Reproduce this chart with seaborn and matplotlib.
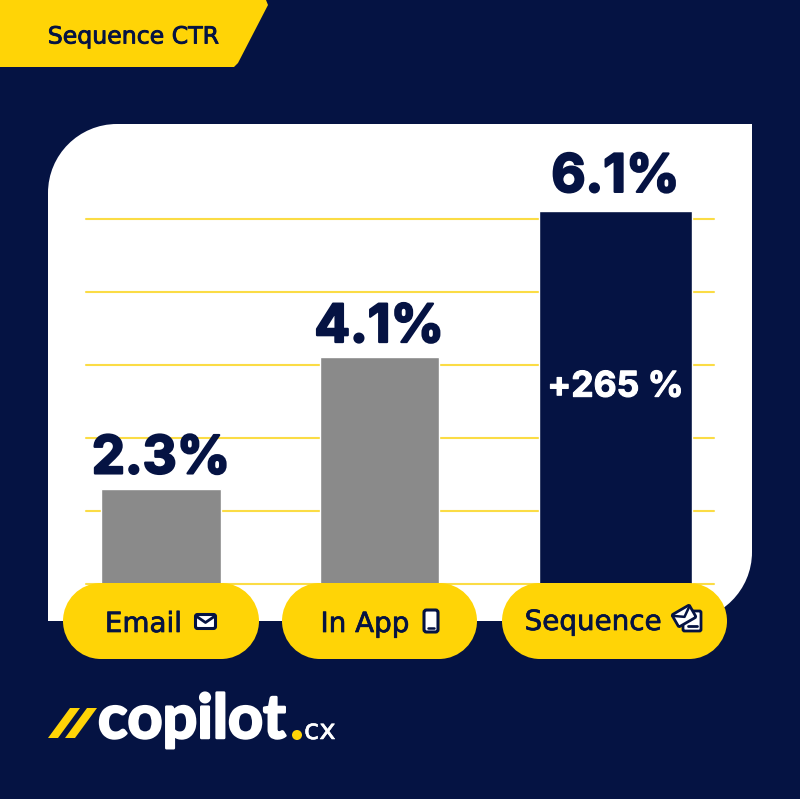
import numpy as np
import pandas as pd
import seaborn as sns
import matplotlib
matplotlib.use("Agg")
import matplotlib.pyplot as plt
import matplotlib.patheffects as pe
from matplotlib.patches import PathPatch, Polygon, FancyBboxPatch, Circle
from matplotlib.path import Path
from matplotlib.transforms import Affine2D

# ---------- data ----------
categories = ["Email", "In App", "Sequence"]
ctr_values = [2.3, 4.1, 6.1]
value_labels = ["2.3%", "4.1%", "6.1%"]
uplift_label = "+265 %"
badge_title = "Sequence CTR"
grid_levels = [1, 2, 3, 4, 5, 6]

# ---------- style ----------
NAVY = "#051343"
YELLOW = "#FFD406"
GRID = "#FBDC45"
GREY = "#8A8A8A"
WHITE = "#FFFFFF"
W, H = 800, 799
FONT = ["Inter", "DejaVu Sans"]
WIDE = ["DejaVu Sans"]

sns.set_theme(style="white")
plt.rcParams["font.family"] = FONT
fig = plt.figure(figsize=(W / 100, H / 100), dpi=100, facecolor=NAVY)


def stroke(width, color):
    return [pe.withStroke(linewidth=width, foreground=color)]


def pixel_axes(z):
    a = fig.add_axes([0, 0, 1, 1], zorder=z)
    a.set_xlim(0, W)
    a.set_ylim(H, 0)
    a.axis("off")
    a.patch.set_alpha(0)
    return a


def rounded_path(x0, y0, x1, y1, r_tl, r_tr, r_br, r_bl):
    k = 0.5523
    v = [(x0 + r_tl, y0), (x1 - r_tr, y0),
         (x1 - r_tr + k * r_tr, y0), (x1, y0 + r_tr - k * r_tr), (x1, y0 + r_tr),
         (x1, y1 - r_br),
         (x1, y1 - r_br + k * r_br), (x1 - r_br + k * r_br, y1), (x1 - r_br, y1),
         (x0 + r_bl, y1),
         (x0 + r_bl - k * r_bl, y1), (x0, y1 - r_bl + k * r_bl), (x0, y1 - r_bl),
         (x0, y0 + r_tl),
         (x0, y0 + r_tl - k * r_tl), (x0 + r_tl - k * r_tl, y0), (x0 + r_tl, y0)]
    c = [Path.MOVETO, Path.LINETO,
         Path.CURVE4, Path.CURVE4, Path.CURVE4,
         Path.LINETO,
         Path.CURVE4, Path.CURVE4, Path.CURVE4,
         Path.LINETO,
         Path.CURVE4, Path.CURVE4, Path.CURVE4,
         Path.LINETO,
         Path.CURVE4, Path.CURVE4, Path.CURVE4]
    return Path(v, c)


# ---------- background layer ----------
bg = pixel_axes(0)
bg.add_patch(PathPatch(rounded_path(48, 124, 752, 621, 69, 0, 69, 0), fc=WHITE, ec="none"))
bg.add_patch(Polygon([(0, 0), (266, 0), (268, 5), (238, 63), (234, 67), (0, 67)], fc=YELLOW, ec="none"))
bg.text(133.5, 34, badge_title, ha="center", va="center_baseline", color=NAVY,
        fontsize=17, family=WIDE, path_effects=stroke(0.6, NAVY))

# ---------- chart layer ----------
BASE_PX = 583.5
ax = fig.add_axes([86 / W, 1 - BASE_PX / H, (714 - 86) / W, (BASE_PX - 200) / H], zorder=1)
ax.patch.set_alpha(0)
df = pd.DataFrame({"channel": categories, "ctr": ctr_values})
sns.barplot(data=df, x="channel", y="ctr", hue="channel", order=categories,
            palette=[GREY, GREY, NAVY], legend=False, saturation=1, ax=ax, zorder=3)
ax.set_xlim(-0.5, 2.5)
# y axis starts at 1, as in the original: one gridline unit is 73 px
ax.set_ylim(1, 1 + (BASE_PX - 200) / 73)
ax.set_yticks(grid_levels)
ax.yaxis.grid(True, color=GRID, linewidth=1.5)
for line in ax.get_ygridlines():
    line.set_clip_on(False)
ax.xaxis.grid(False)
ax.set_axisbelow(True)
ax.set_xticks([])
ax.set_yticklabels([])
ax.set_xlabel("")
ax.set_ylabel("")
ax.tick_params(length=0)
sns.despine(ax=ax, left=True, bottom=True, top=True, right=True)


def to_x(px):
    return -0.5 + 3 * (px - 86) / (714 - 86)


# the original's bars differ in width and spacing
bar_spans_px = [(101.2, 220.8), (319.7, 438.9), (538.7, 692.2)]
bars = list(ax.patches)[:3]
for bar, (a, b) in zip(bars, bar_spans_px):
    bar.set_x(to_x(a))
    bar.set_width(to_x(b) - to_x(a))

label_gaps = [3, 3, 6]
for bar, val, lab, gap in zip(bars, ctr_values, value_labels, label_gaps):
    ax.annotate(lab, (bar.get_x() + bar.get_width() / 2, val), xytext=(0, gap),
                textcoords="offset points", ha="center", va="bottom",
                color=NAVY, fontsize=38, fontweight="bold", annotation_clip=False,
                path_effects=stroke(1.6, NAVY))
seq = bars[2]
ax.text(seq.get_x() + seq.get_width() / 2, 3.69, uplift_label, ha="center", va="center",
        color=WHITE, fontsize=25.5, fontweight="bold", path_effects=stroke(0.8, WHITE))

# ---------- overlay: pills, icons, logo ----------
ov = pixel_axes(2)
pills = [(63, 259), (282, 477), (502, 727)]
for (a, b) in pills:
    ov.add_patch(PathPatch(rounded_path(a, 583, b, 659, 38, 38, 38, 38), fc=YELLOW, ec="none"))
pill_text_x = [143.5, 365, 593]
pill_text_y = [621, 621, 619]
for name, tx, ty in zip(categories, pill_text_x, pill_text_y):
    ov.text(tx, ty, name, ha="center", va="center_baseline", color=NAVY, fontsize=20,
            family=WIDE, path_effects=stroke(0.5, NAVY))

# envelope icon
ov.add_patch(FancyBboxPatch((195.5, 614.5), 20, 14, boxstyle="round,pad=0,rounding_size=2", fc=WHITE, ec=NAVY, lw=2.2))
ov.plot([196, 205.5, 215], [616, 622.5, 616], color=NAVY, lw=2)
# phone icon
ov.add_patch(FancyBboxPatch((424, 610), 14, 22, boxstyle="round,pad=0,rounding_size=2.5", fc=WHITE, ec=NAVY, lw=2.2))
ov.plot([428, 434], [628, 628], color=NAVY, lw=1.8)
# sequence icon: tilted envelope over a card
ov.add_patch(FancyBboxPatch((683, 611), 18, 20, boxstyle="round,pad=0,rounding_size=1.5", fc=WHITE, ec=NAVY, lw=2))
ov.plot([688, 697], [626, 626], color=NAVY, lw=2)
rot = Affine2D().rotate_deg_around(684, 616, -30) + ov.transData
ov.add_patch(FancyBboxPatch((674, 609), 20, 14, boxstyle="round,pad=0,rounding_size=1.5", fc=WHITE, ec=NAVY, lw=2, transform=rot))
ov.plot([674, 684, 694], [610, 617, 610], color=NAVY, lw=1.8, transform=rot)

# logo
ov.add_patch(Polygon([(48, 738), (58, 738), (80, 708), (70, 708)], fc=YELLOW, ec="none"))
ov.add_patch(Polygon([(65, 738), (75, 738), (97, 708), (87, 708)], fc=YELLOW, ec="none"))
ov.text(98, 738, "copilot", ha="left", va="baseline", color=WHITE, fontsize=44, fontweight="bold",
        family=["Lato", "DejaVu Sans"], path_effects=stroke(1.8, WHITE))
ov.add_patch(Circle((297, 735), 5, fc=YELLOW, ec="none"))
ov.text(304, 739, "cx", ha="left", va="baseline", color=WHITE, fontsize=20, family=WIDE,
        path_effects=stroke(0.4, WHITE))

fig.savefig("out.png", dpi=100, facecolor=NAVY)
